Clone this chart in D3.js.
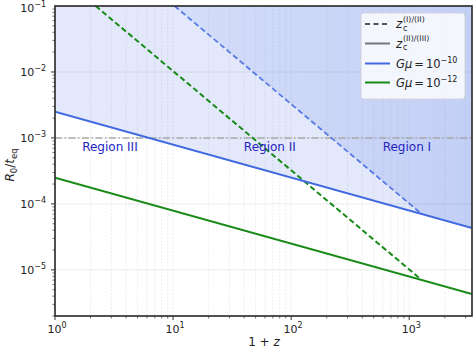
<!DOCTYPE html>
<html><head><meta charset="utf-8">
<script src="https://cdn.jsdelivr.net/npm/d3@7"></script>
<style>
body{margin:0;background:#fff;}
svg{display:block;font-family:"DejaVu Sans",sans-serif;}
</style></head>
<body><svg id="c" width="474" height="350"></svg>
<script>
// ---- data ----
const xDomain = [1, 3400];
const yDomain = [2e-6, 0.1];
const xTickLabels = ["0", "1", "2", "3"];          // exponents of 10
const yTickLabels = ["−1", "−2", "−3", "−4", "−5"]; // exponents of 10
const xTickValues = [1, 10, 100, 1000];
const yTickValues = [1e-1, 1e-2, 1e-3, 1e-4, 1e-5];
// Gμ = 1e-10 (blue) and Gμ = 1e-12 (green): solid R0/teq curves
const blueSolidX = [1, 3400];
const blueSolidY = [2.5e-3, 4.3e-5];
const greenSolidX = [1, 3400];
const greenSolidY = [2.5e-4, 4.3e-6];
// z_c^(I)/(II) dashed curves
const blueDashX = [10.3, 1280];
const blueDashY = [0.1, 6.99e-5];
const greenDashX = [2.21, 1280];
const greenDashY = [0.1, 6.99e-6];
// z_c^(II)/(III) horizontal dash-dot
const hLineY = 1e-3;
const regionNames = ["Region III", "Region II", "Region I"];
const regionX = [2.92, 66, 955];
const legendLabels = ["(I)/(II)", "(II)/(III)", "−10", "−12"];

// ---- layout ----
const svg = d3.select("#c");
const L = 55, R = 472, T = 6, B = 316;
const x = d3.scaleLog().domain(xDomain).range([L, R]);
const y = d3.scaleLog().domain(yDomain).range([B, T]);
const BLUE = "#4169e1", GREEN = "#188a18";

const defs = svg.append("defs");
defs.append("clipPath").attr("id", "clip").append("rect")
  .attr("x", L).attr("y", T).attr("width", R - L).attr("height", B - T);
const grad = defs.append("linearGradient").attr("id", "g1")
  .attr("gradientUnits", "userSpaceOnUse")
  .attr("x1", x(blueDashX[0])).attr("x2", R).attr("y1", 0).attr("y2", 0);
grad.append("stop").attr("offset", 0).attr("stop-color", BLUE).attr("stop-opacity", 0.09);
grad.append("stop").attr("offset", 1).attr("stop-color", BLUE).attr("stop-opacity", 0.2);

// grid
const minorX = [];
for (let d = 1; d <= 1000; d *= 10) for (let k = 1; k <= 9; k++) if (d * k <= xDomain[1]) minorX.push(d * k);
const minorY = [];
for (let d = 1e-6; d < 0.1; d *= 10) for (let k = 1; k <= 9; k++) { const v = d * k; if (v >= yDomain[0] && v <= yDomain[1]) minorY.push(v); }
const g = svg.append("g");
g.selectAll(".vg").data(minorX).enter().append("line")
  .attr("x1", d => x(d)).attr("x2", d => x(d)).attr("y1", T).attr("y2", B)
  .attr("stroke", "#d8d8d8").attr("stroke-width", 0.7).attr("stroke-dasharray", "2,1.5").attr("opacity", 0.6);
g.selectAll(".hg").data(yTickValues).enter().append("line")
  .attr("y1", d => y(d)).attr("y2", d => y(d)).attr("x1", L).attr("x2", R)
  .attr("stroke", "#d8d8d8").attr("stroke-width", 0.7).attr("opacity", 0.7);

const plot = svg.append("g").attr("clip-path", "url(#clip)");
const line = d3.line().x(d => x(d[0])).y(d => y(d[1]));
const pts = (xs, ys) => xs.map((v, i) => [v, ys[i]]);

// region II+I fill (above blue solid)
const fill2 = pts(blueSolidX, blueSolidY).concat([[xDomain[1], yDomain[1]], [xDomain[0], yDomain[1]]]);
plot.append("path").attr("d", line(fill2) + "Z").attr("fill", BLUE).attr("fill-opacity", 0.15);
// region I fill (above blue dashed then solid)
const fill1 = pts(blueDashX, blueDashY).concat([[blueSolidX[1], blueSolidY[1]], [xDomain[1], yDomain[1]]]);
plot.append("path").attr("d", line(fill1) + "Z").attr("fill", "url(#g1)");

// horizontal dash-dot
plot.append("line").attr("x1", L).attr("x2", R).attr("y1", y(hLineY)).attr("y2", y(hLineY))
  .attr("stroke", "#aaaaaa").attr("stroke-width", 1.5).attr("stroke-dasharray", "7,2.5,1.5,2.5");

plot.append("path").attr("d", line(pts(blueDashX, blueDashY))).attr("fill", "none")
  .attr("stroke", BLUE).attr("stroke-width", 1.8).attr("stroke-dasharray", "5.5,3").attr("opacity", 0.85);
plot.append("path").attr("d", line(pts(greenDashX, greenDashY))).attr("fill", "none")
  .attr("stroke", GREEN).attr("stroke-width", 2).attr("stroke-dasharray", "5.5,3");
plot.append("path").attr("d", line(pts(blueSolidX, blueSolidY))).attr("fill", "none")
  .attr("stroke", BLUE).attr("stroke-width", 2);
plot.append("path").attr("d", line(pts(greenSolidX, greenSolidY))).attr("fill", "none")
  .attr("stroke", GREEN).attr("stroke-width", 2);

// region labels
regionNames.forEach((t, i) => {
  svg.append("text").attr("x", x(regionX[i])).attr("y", y(hLineY) + 13.5)
    .attr("text-anchor", "middle").attr("font-size", 12).attr("fill", "#2323c4").text(t);
});

// axes ticks
const isMajorY = d => yTickValues.some(v => Math.abs(v - d) / v < 1e-6);
const ax = svg.append("g");
ax.selectAll(".xt").data(minorX).enter().append("line")
  .attr("x1", d => x(d)).attr("x2", d => x(d)).attr("y1", B)
  .attr("y2", d => B + (xTickValues.includes(d) ? 4 : 2.5)).attr("stroke", "#333").attr("stroke-width", d => xTickValues.includes(d) ? 1 : 0.7);
ax.selectAll(".yt").data(minorY).enter().append("line")
  .attr("y1", d => y(d)).attr("y2", d => y(d)).attr("x1", L)
  .attr("x2", d => L - (isMajorY(d) ? 4 : 2.5)).attr("stroke", "#333").attr("stroke-width", d => isMajorY(d) ? 1 : 0.7);

xTickValues.forEach((v, i) => {
  const t = ax.append("text").attr("x", x(v) + 2).attr("y", 333).attr("text-anchor", "middle").attr("font-size", 11).attr("fill", "#222");
  t.append("tspan").text("10");
  t.append("tspan").attr("font-size", 8).attr("dy", -5).text(xTickLabels[i]);
});
yTickValues.forEach((v, i) => {
  const t = ax.append("text").attr("x", 46).attr("y", Math.max(y(v) + 4, 11.5)).attr("text-anchor", "end").attr("font-size", 11).attr("fill", "#222");
  t.append("tspan").text("10");
  t.append("tspan").attr("font-size", 8).attr("dy", -4.5).text(yTickLabels[i]);
});

// frame
svg.append("rect").attr("x", L).attr("y", T).attr("width", R - L).attr("height", B - T)
  .attr("fill", "none").attr("stroke", "#333").attr("stroke-width", 1.7);

// axis labels
const xl = svg.append("text").attr("x", 264).attr("y", 346).attr("text-anchor", "middle").attr("font-size", 12).attr("fill", "#222");
xl.append("tspan").text("1 + ");
xl.append("tspan").attr("font-style", "italic").text("z");
const yl = svg.append("text").attr("transform", "translate(14,165) rotate(-90)").attr("text-anchor", "middle").attr("font-size", 12).attr("fill", "#222");
yl.append("tspan").attr("font-style", "italic").text("R");
yl.append("tspan").attr("font-size", 8.5).attr("dy", 3).text("0");
yl.append("tspan").attr("dy", -3).text("/");
yl.append("tspan").attr("font-style", "italic").text("t");
yl.append("tspan").attr("font-size", 8.5).attr("dy", 3).text("eq");

// legend
const lg = svg.append("g");
lg.append("rect").attr("x", 361).attr("y", 13).attr("width", 104).attr("height", 86).attr("rx", 3)
  .attr("fill", "#fff").attr("fill-opacity", 0.8).attr("stroke", "#d0d0d0").attr("stroke-width", 0.8);
const rows = [
  {y: 24, stroke: "#555", dash: "5,3.5"},
  {y: 43.5, stroke: "#777", dash: null},
  {y: 63.5, stroke: BLUE, dash: null},
  {y: 82.5, stroke: GREEN, dash: null}
];
rows.forEach((r, i) => {
  lg.append("line").attr("x1", 365).attr("x2", 390).attr("y1", r.y).attr("y2", r.y)
    .attr("stroke", r.stroke).attr("stroke-width", 2).attr("stroke-dasharray", r.dash);
  if (i < 2) {
    lg.append("text").attr("x", 396).attr("y", r.y + 4).attr("font-size", 12).attr("font-style", "italic").attr("fill", "#222").text("z");
    lg.append("text").attr("x", 403).attr("y", r.y + 6.5).attr("font-size", 8).attr("fill", "#222").text("c");
    lg.append("text").attr("x", 403).attr("y", r.y - 2.5).attr("font-size", 7.8).attr("fill", "#222").text(legendLabels[i]);
  } else {
    const t = lg.append("text").attr("x", 396).attr("y", r.y + 4).attr("font-size", 11.5).attr("fill", "#222");
    t.append("tspan").attr("font-style", "italic").text("Gμ");
    t.append("tspan").attr("dx", 2).text("=");
    t.append("tspan").attr("dx", 2).text("10");
    t.append("tspan").attr("font-size", 8).attr("dy", -5).text(legendLabels[i]);
  }
});
</script></body></html>
